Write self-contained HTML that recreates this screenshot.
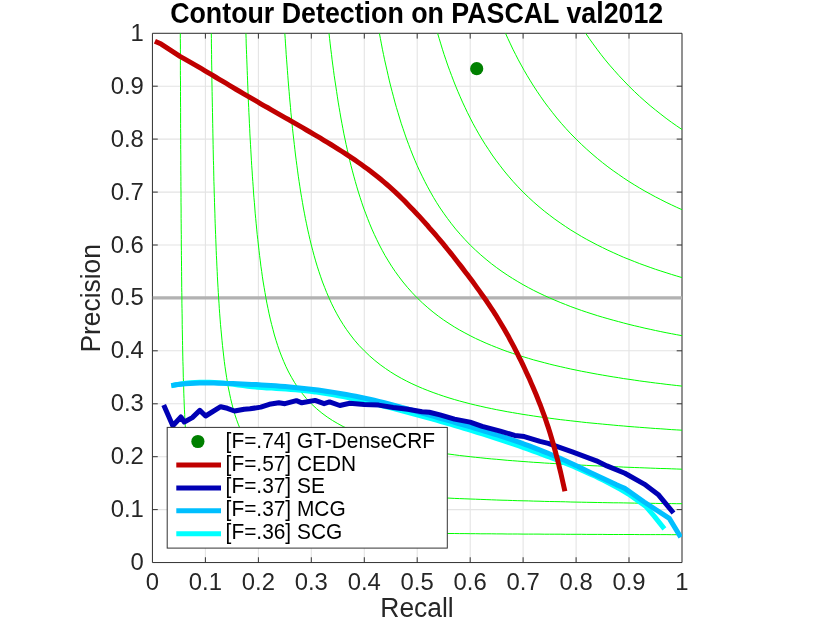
<!DOCTYPE html>
<html lang="en"><head><meta charset="utf-8"><title>Contour Detection on PASCAL val2012</title>
<style>html,body{margin:0;padding:0;background:#fff;overflow:hidden}svg{display:block}</style></head>
<body>
<svg width="830" height="623" viewBox="0 0 830 623">
<rect width="830" height="623" fill="#fff"/>
<defs><clipPath id="ax"><rect x="152.45" y="33.3" width="529.55" height="529.25"/></clipPath></defs>
<path d="M152.4 33.3V562.55M152.45 562.5H682.0M205.4 33.3V562.55M152.45 509.6H682.0M258.4 33.3V562.55M152.45 456.7H682.0M311.3 33.3V562.55M152.45 403.8H682.0M364.3 33.3V562.55M152.45 350.8H682.0M417.2 33.3V562.55M152.45 297.9H682.0M470.2 33.3V562.55M152.45 245.0H682.0M523.1 33.3V562.55M152.45 192.1H682.0M576.1 33.3V562.55M152.45 139.1H682.0M629.0 33.3V562.55M152.45 86.2H682.0M682.0 33.3V562.55M152.45 33.3H682.0" stroke="#e4e4e4" stroke-width="1.1" fill="none"/>
<path d="M152.45 33.3H682.0V562.55H152.45ZM205.4 562.55v-5.3M205.4 33.3v5.3M152.45 509.6h5.3M682.0 509.6h-5.3M258.4 562.55v-5.3M258.4 33.3v5.3M152.45 456.7h5.3M682.0 456.7h-5.3M311.3 562.55v-5.3M311.3 33.3v5.3M152.45 403.8h5.3M682.0 403.8h-5.3M364.3 562.55v-5.3M364.3 33.3v5.3M152.45 350.8h5.3M682.0 350.8h-5.3M417.2 562.55v-5.3M417.2 33.3v5.3M152.45 297.9h5.3M682.0 297.9h-5.3M470.2 562.55v-5.3M470.2 33.3v5.3M152.45 245.0h5.3M682.0 245.0h-5.3M523.1 562.55v-5.3M523.1 33.3v5.3M152.45 192.1h5.3M682.0 192.1h-5.3M576.1 562.55v-5.3M576.1 33.3v5.3M152.45 139.1h5.3M682.0 139.1h-5.3M629.0 562.55v-5.3M629.0 33.3v5.3M152.45 86.2h5.3M682.0 86.2h-5.3" stroke="#333" stroke-width="1" fill="none"/>
<g clip-path="url(#ax)" fill="none" stroke-linejoin="round">
<path d="M152.45 297.92H682.0" stroke="#b2b2b2" stroke-width="3.4"/>
<polyline points="205.4,509.6 210.7,514.0 216.0,517.2 221.3,519.5 226.6,521.4 231.9,522.9 237.2,524.1 242.5,525.1 247.8,525.9 253.1,526.6 258.4,527.3 263.7,527.8 269.0,528.3 274.2,528.7 279.5,529.1 284.8,529.5 290.1,529.8 295.4,530.1 300.7,530.3 306.0,530.6 311.3,530.8 316.6,531.0 321.9,531.2 327.2,531.4 332.5,531.5 337.8,531.7 343.1,531.8 348.4,532.0 353.7,532.1 359.0,532.2 364.3,532.3 369.6,532.4 374.9,532.5 380.2,532.6 385.5,532.7 390.7,532.8 396.0,532.9 401.3,532.9 406.6,533.0 411.9,533.1 417.2,533.1 422.5,533.2 427.8,533.3 433.1,533.3 438.4,533.4 443.7,533.4 449.0,533.5 454.3,533.5 459.6,533.6 464.9,533.6 470.2,533.7 475.5,533.7 480.8,533.8 486.1,533.8 491.4,533.8 496.7,533.9 502.0,533.9 507.2,534.0 512.5,534.0 517.8,534.0 523.1,534.1 528.4,534.1 533.7,534.1 539.0,534.1 544.3,534.2 549.6,534.2 554.9,534.2 560.2,534.2 565.5,534.3 570.8,534.3 576.1,534.3 581.4,534.3 586.7,534.4 592.0,534.4 597.3,534.4 602.6,534.4 607.9,534.5 613.2,534.5 618.5,534.5 623.7,534.5 629.0,534.5 634.3,534.5 639.6,534.6 644.9,534.6 650.2,534.6 655.5,534.6 660.8,534.6 666.1,534.6 671.4,534.7 676.7,534.7 682.0,534.7" stroke="#00ff00" stroke-width="1"/>
<polyline points="205.4,509.6 201.0,504.3 197.8,499.0 195.5,493.7 193.6,488.5 192.2,483.2 191.0,477.9 190.0,472.6 189.1,467.3 188.4,462.0 187.8,456.7 187.2,451.4 186.7,446.1 186.3,440.8 185.9,435.5 185.5,430.2 185.2,424.9 184.9,419.7 184.7,414.4 184.4,409.1 184.2,403.8 184.0,398.5 183.8,393.2 183.7,387.9 183.5,382.6 183.3,377.3 183.2,372.0 183.1,366.7 182.9,361.4 182.8,356.1 182.7,350.9 182.6,345.6 182.5,340.3 182.4,335.0 182.3,329.7 182.2,324.4 182.2,319.1 182.1,313.8 182.0,308.5 181.9,303.2 181.9,297.9 181.8,292.6 181.7,287.3 181.7,282.0 181.6,276.8 181.6,271.5 181.5,266.2 181.5,260.9 181.4,255.6 181.4,250.3 181.3,245.0 181.3,239.7 181.3,234.4 181.2,229.1 181.2,223.8 181.1,218.5 181.1,213.2 181.1,208.0 181.0,202.7 181.0,197.4 181.0,192.1 180.9,186.8 180.9,181.5 180.9,176.2 180.8,170.9 180.8,165.6 180.8,160.3 180.8,155.0 180.7,149.7 180.7,144.4 180.7,139.2 180.7,133.9 180.6,128.6 180.6,123.3 180.6,118.0 180.6,112.7 180.6,107.4 180.5,102.1 180.5,96.8 180.5,91.5 180.5,86.2 180.5,80.9 180.4,75.6 180.4,70.3 180.4,65.1 180.4,59.8 180.4,54.5 180.4,49.2 180.4,43.9 180.3,38.6 180.3,33.3" stroke="#00ff00" stroke-width="1"/>
<polyline points="258.4,456.7 263.7,461.5 269.0,465.5 274.2,468.9 279.5,471.8 284.8,474.3 290.1,476.5 295.4,478.5 300.7,480.2 306.0,481.8 311.3,483.2 316.6,484.4 321.9,485.6 327.2,486.6 332.5,487.6 337.8,488.5 343.1,489.3 348.4,490.0 353.7,490.7 359.0,491.4 364.3,492.0 369.6,492.6 374.9,493.1 380.2,493.6 385.5,494.1 390.7,494.5 396.0,494.9 401.3,495.3 406.6,495.7 411.9,496.1 417.2,496.4 422.5,496.7 427.8,497.0 433.1,497.3 438.4,497.6 443.7,497.9 449.0,498.1 454.3,498.4 459.6,498.6 464.9,498.8 470.2,499.0 475.5,499.2 480.8,499.4 486.1,499.6 491.4,499.8 496.7,500.0 502.0,500.2 507.2,500.3 512.5,500.5 517.8,500.7 523.1,500.8 528.4,500.9 533.7,501.1 539.0,501.2 544.3,501.4 549.6,501.5 554.9,501.6 560.2,501.7 565.5,501.8 570.8,502.0 576.1,502.1 581.4,502.2 586.7,502.3 592.0,502.4 597.3,502.5 602.6,502.6 607.9,502.7 613.2,502.8 618.5,502.8 623.7,502.9 629.0,503.0 634.3,503.1 639.6,503.2 644.9,503.2 650.2,503.3 655.5,503.4 660.8,503.5 666.1,503.5 671.4,503.6 676.7,503.7 682.0,503.7" stroke="#00ff00" stroke-width="1"/>
<polyline points="258.4,456.7 253.5,451.4 249.5,446.1 246.1,440.8 243.2,435.5 240.7,430.2 238.5,424.9 236.6,419.7 234.8,414.4 233.3,409.1 231.9,403.8 230.6,398.5 229.5,393.2 228.4,387.9 227.5,382.6 226.6,377.3 225.8,372.0 225.0,366.7 224.3,361.4 223.7,356.1 223.1,350.8 222.5,345.6 222.0,340.3 221.5,335.0 221.0,329.7 220.5,324.4 220.1,319.1 219.7,313.8 219.3,308.5 219.0,303.2 218.6,297.9 218.3,292.6 218.0,287.3 217.7,282.0 217.4,276.8 217.2,271.5 216.9,266.2 216.7,260.9 216.4,255.6 216.2,250.3 216.0,245.0 215.8,239.7 215.6,234.4 215.4,229.1 215.2,223.8 215.0,218.5 214.9,213.2 214.7,208.0 214.5,202.7 214.4,197.4 214.2,192.1 214.1,186.8 213.9,181.5 213.8,176.2 213.7,170.9 213.6,165.6 213.4,160.3 213.3,155.0 213.2,149.7 213.1,144.4 213.0,139.1 212.9,133.9 212.8,128.6 212.7,123.3 212.6,118.0 212.5,112.7 212.4,107.4 212.3,102.1 212.2,96.8 212.1,91.5 212.0,86.2 211.9,80.9 211.9,75.6 211.8,70.3 211.7,65.1 211.6,59.8 211.6,54.5 211.5,49.2 211.4,43.9 211.4,38.6 211.3,33.3" stroke="#00ff00" stroke-width="1"/>
<polyline points="311.3,403.8 316.6,408.7 321.9,413.1 327.2,417.0 332.5,420.5 337.8,423.6 343.1,426.5 348.4,429.0 353.7,431.4 359.0,433.5 364.3,435.5 369.6,437.4 374.9,439.1 380.2,440.6 385.5,442.1 390.7,443.5 396.0,444.7 401.3,445.9 406.6,447.1 411.9,448.1 417.2,449.1 422.5,450.1 427.8,451.0 433.1,451.8 438.4,452.6 443.7,453.4 449.0,454.1 454.3,454.8 459.6,455.5 464.9,456.1 470.2,456.7 475.5,457.3 480.8,457.8 486.1,458.4 491.4,458.9 496.7,459.3 502.0,459.8 507.2,460.3 512.5,460.7 517.8,461.1 523.1,461.5 528.4,461.9 533.7,462.3 539.0,462.6 544.3,463.0 549.6,463.3 554.9,463.6 560.2,464.0 565.5,464.3 570.8,464.6 576.1,464.8 581.4,465.1 586.7,465.4 592.0,465.7 597.3,465.9 602.6,466.2 607.9,466.4 613.2,466.6 618.5,466.8 623.7,467.1 629.0,467.3 634.3,467.5 639.6,467.7 644.9,467.9 650.2,468.1 655.5,468.3 660.8,468.5 666.1,468.6 671.4,468.8 676.7,469.0 682.0,469.2" stroke="#00ff00" stroke-width="1"/>
<polyline points="311.3,403.8 306.4,398.5 302.0,393.2 298.1,387.9 294.6,382.6 291.5,377.3 288.6,372.0 286.0,366.7 283.7,361.4 281.5,356.1 279.5,350.8 277.7,345.6 276.0,340.3 274.4,335.0 273.0,329.7 271.6,324.4 270.3,319.1 269.1,313.8 268.0,308.5 266.9,303.2 265.9,297.9 265.0,292.6 264.1,287.3 263.2,282.0 262.4,276.8 261.7,271.5 260.9,266.2 260.3,260.9 259.6,255.6 259.0,250.3 258.4,245.0 257.8,239.7 257.2,234.4 256.7,229.1 256.2,223.8 255.7,218.5 255.2,213.2 254.8,208.0 254.4,202.7 253.9,197.4 253.5,192.1 253.2,186.8 252.8,181.5 252.4,176.2 252.1,170.9 251.7,165.6 251.4,160.3 251.1,155.0 250.8,149.7 250.5,144.4 250.2,139.1 249.9,133.9 249.7,128.6 249.4,123.3 249.2,118.0 248.9,112.7 248.7,107.4 248.4,102.1 248.2,96.8 248.0,91.5 247.8,86.2 247.6,80.9 247.4,75.6 247.2,70.3 247.0,65.1 246.8,59.8 246.6,54.5 246.4,49.2 246.2,43.9 246.1,38.6 245.9,33.3" stroke="#00ff00" stroke-width="1"/>
<polyline points="364.3,350.8 369.6,355.9 374.9,360.5 380.2,364.7 385.5,368.5 390.7,372.0 396.0,375.3 401.3,378.3 406.6,381.1 411.9,383.7 417.2,386.1 422.5,388.4 427.8,390.5 433.1,392.5 438.4,394.4 443.7,396.2 449.0,397.9 454.3,399.5 459.6,401.0 464.9,402.4 470.2,403.8 475.5,405.1 480.8,406.3 486.1,407.5 491.4,408.6 496.7,409.7 502.0,410.7 507.2,411.7 512.5,412.6 517.8,413.5 523.1,414.4 528.4,415.2 533.7,416.0 539.0,416.8 544.3,417.5 549.6,418.2 554.9,418.9 560.2,419.6 565.5,420.2 570.8,420.8 576.1,421.4 581.4,422.0 586.7,422.6 592.0,423.1 597.3,423.6 602.6,424.1 607.9,424.6 613.2,425.1 618.5,425.6 623.7,426.0 629.0,426.5 634.3,426.9 639.6,427.3 644.9,427.7 650.2,428.1 655.5,428.5 660.8,428.8 666.1,429.2 671.4,429.6 676.7,429.9 682.0,430.2" stroke="#00ff00" stroke-width="1"/>
<polyline points="364.3,350.8 359.2,345.6 354.6,340.3 350.5,335.0 346.6,329.7 343.1,324.4 339.8,319.1 336.8,313.8 334.0,308.5 331.4,303.2 329.0,297.9 326.7,292.6 324.6,287.3 322.5,282.0 320.7,276.8 318.9,271.5 317.2,266.2 315.6,260.9 314.1,255.6 312.7,250.3 311.3,245.0 310.0,239.7 308.8,234.4 307.6,229.1 306.5,223.8 305.4,218.5 304.4,213.2 303.4,208.0 302.5,202.7 301.6,197.4 300.7,192.1 299.9,186.8 299.1,181.5 298.3,176.2 297.6,170.9 296.9,165.6 296.2,160.3 295.5,155.0 294.9,149.7 294.3,144.4 293.7,139.1 293.1,133.9 292.5,128.6 292.0,123.3 291.5,118.0 290.9,112.7 290.5,107.4 290.0,102.1 289.5,96.8 289.1,91.5 288.6,86.2 288.2,80.9 287.8,75.6 287.4,70.3 287.0,65.1 286.6,59.8 286.2,54.5 285.9,49.2 285.5,43.9 285.2,38.6 284.8,33.3" stroke="#00ff00" stroke-width="1"/>
<polyline points="417.2,297.9 422.5,303.0 427.8,307.7 433.1,312.1 438.4,316.2 443.7,320.0 449.0,323.5 454.3,326.9 459.6,330.0 464.9,332.9 470.2,335.7 475.5,338.4 480.8,340.8 486.1,343.2 491.4,345.4 496.7,347.5 502.0,349.6 507.2,351.5 512.5,353.3 517.8,355.1 523.1,356.7 528.4,358.3 533.7,359.9 539.0,361.3 544.3,362.7 549.6,364.1 554.9,365.4 560.2,366.6 565.5,367.8 570.8,369.0 576.1,370.1 581.4,371.2 586.7,372.2 592.0,373.2 597.3,374.2 602.6,375.1 607.9,376.0 613.2,376.9 618.5,377.7 623.7,378.6 629.0,379.3 634.3,380.1 639.6,380.9 644.9,381.6 650.2,382.3 655.5,383.0 660.8,383.6 666.1,384.3 671.4,384.9 676.7,385.5 682.0,386.1" stroke="#00ff00" stroke-width="1"/>
<polyline points="417.2,297.9 412.1,292.6 407.4,287.3 403.0,282.0 399.0,276.8 395.2,271.5 391.6,266.2 388.3,260.9 385.1,255.6 382.2,250.3 379.4,245.0 376.8,239.7 374.3,234.4 371.9,229.1 369.7,223.8 367.6,218.5 365.6,213.2 363.6,208.0 361.8,202.7 360.1,197.4 358.4,192.1 356.8,186.8 355.3,181.5 353.8,176.2 352.4,170.9 351.0,165.6 349.7,160.3 348.5,155.0 347.3,149.7 346.1,144.4 345.0,139.1 343.9,133.9 342.9,128.6 341.9,123.3 340.9,118.0 340.0,112.7 339.1,107.4 338.2,102.1 337.4,96.8 336.6,91.5 335.8,86.2 335.0,80.9 334.2,75.6 333.5,70.3 332.8,65.1 332.1,59.8 331.5,54.5 330.8,49.2 330.2,43.9 329.6,38.6 329.0,33.3" stroke="#00ff00" stroke-width="1"/>
<polyline points="470.2,245.0 475.5,250.1 480.8,254.9 486.1,259.4 491.4,263.7 496.7,267.7 502.0,271.5 507.2,275.0 512.5,278.4 517.8,281.6 523.1,284.7 528.4,287.6 533.7,290.4 539.0,293.0 544.3,295.5 549.6,297.9 554.9,300.2 560.2,302.4 565.5,304.5 570.8,306.6 576.1,308.5 581.4,310.4 586.7,312.2 592.0,313.9 597.3,315.6 602.6,317.2 607.9,318.7 613.2,320.2 618.5,321.6 623.7,323.0 629.0,324.4 634.3,325.7 639.6,326.9 644.9,328.2 650.2,329.3 655.5,330.5 660.8,331.6 666.1,332.7 671.4,333.7 676.7,334.7 682.0,335.7" stroke="#00ff00" stroke-width="1"/>
<polyline points="470.2,245.0 465.1,239.7 460.3,234.4 455.7,229.1 451.5,223.8 447.5,218.5 443.7,213.2 440.1,208.0 436.7,202.7 433.5,197.4 430.5,192.1 427.6,186.8 424.8,181.5 422.2,176.2 419.6,170.9 417.2,165.6 414.9,160.3 412.7,155.0 410.6,149.7 408.6,144.4 406.6,139.1 404.8,133.9 403.0,128.6 401.2,123.3 399.6,118.0 398.0,112.7 396.4,107.4 394.9,102.1 393.5,96.8 392.1,91.5 390.7,86.2 389.4,80.9 388.2,75.6 387.0,70.3 385.8,65.1 384.6,59.8 383.5,54.5 382.4,49.2 381.4,43.9 380.4,38.6 379.4,33.3" stroke="#00ff00" stroke-width="1"/>
<polyline points="523.1,192.1 528.4,197.2 533.7,202.1 539.0,206.7 544.3,211.1 549.6,215.2 554.9,219.2 560.2,222.9 565.5,226.5 570.8,230.0 576.1,233.2 581.4,236.4 586.7,239.4 592.0,242.2 597.3,245.0 602.6,247.6 607.9,250.2 613.2,252.6 618.5,255.0 623.7,257.3 629.0,259.4 634.3,261.5 639.6,263.6 644.9,265.5 650.2,267.4 655.5,269.3 660.8,271.0 666.1,272.7 671.4,274.4 676.7,276.0 682.0,277.6" stroke="#00ff00" stroke-width="1"/>
<polyline points="523.1,192.1 518.0,186.8 513.1,181.5 508.5,176.2 504.1,170.9 500.0,165.6 496.0,160.3 492.2,155.0 488.7,149.7 485.2,144.4 481.9,139.1 478.8,133.9 475.8,128.6 472.9,123.3 470.2,118.0 467.5,112.7 465.0,107.4 462.5,102.1 460.2,96.8 457.9,91.5 455.7,86.2 453.6,80.9 451.6,75.6 449.6,70.3 447.7,65.1 445.9,59.8 444.1,54.5 442.4,49.2 440.8,43.9 439.2,38.6 437.6,33.3" stroke="#00ff00" stroke-width="1"/>
<polyline points="576.1,139.1 581.4,144.3 586.7,149.2 592.0,153.9 597.3,158.4 602.6,162.7 607.9,166.8 613.2,170.7 618.5,174.4 623.7,178.0 629.0,181.5 634.3,184.8 639.6,188.0 644.9,191.1 650.2,194.0 655.5,196.9 660.8,199.6 666.1,202.3 671.4,204.8 676.7,207.3 682.0,209.7" stroke="#00ff00" stroke-width="1"/>
<polyline points="576.1,139.1 570.9,133.9 566.0,128.6 561.3,123.3 556.8,118.0 552.6,112.7 548.5,107.4 544.5,102.1 540.8,96.8 537.2,91.5 533.7,86.2 530.4,80.9 527.2,75.6 524.1,70.3 521.2,65.1 518.3,59.8 515.6,54.5 512.9,49.2 510.4,43.9 507.9,38.6 505.5,33.3" stroke="#00ff00" stroke-width="1"/>
<polyline points="629.0,86.2 634.3,91.4 639.6,96.4 644.9,101.1 650.2,105.7 655.5,110.0 660.8,114.2 666.1,118.3 671.4,122.2 676.7,125.9 682.0,129.5" stroke="#00ff00" stroke-width="1"/>
<polyline points="629.0,86.2 623.9,80.9 618.9,75.6 614.2,70.3 609.6,65.1 605.2,59.8 601.0,54.5 597.0,49.2 593.1,43.9 589.3,38.6 585.7,33.3" stroke="#00ff00" stroke-width="1"/>
<polyline points="171.3,385.7 176.0,384.7 180.8,383.9 185.5,383.3 190.3,382.8 195.1,382.5 199.9,382.3 204.7,382.2 209.5,382.3 214.3,382.5 219.1,382.8 223.9,383.2 228.7,383.7 233.5,384.3 238.2,385.0 243.0,385.6 247.7,386.2 252.5,386.7 257.3,387.2 262.0,387.5 266.8,387.9 271.6,388.1 276.4,388.4 281.2,388.7 286.0,389.1 290.8,389.4 295.6,389.8 300.4,390.3 305.2,390.8 310.0,391.3 314.8,391.9 319.5,392.6 324.3,393.3 329.0,394.0 333.8,394.8 338.5,395.7 343.2,396.6 347.9,397.6 352.6,398.6 357.3,399.7 362.0,400.8 366.7,401.9 371.3,403.0 376.0,404.2 380.6,405.4 385.3,406.5 390.0,407.7 394.6,408.9 399.3,410.1 403.9,411.4 408.6,412.6 413.2,413.8 417.9,415.1 422.5,416.4 427.1,417.6 431.8,418.9 436.4,420.2 441.0,421.5 445.7,422.9 450.3,424.2 454.9,425.5 459.5,426.9 464.1,428.3 468.7,429.7 473.3,431.1 477.9,432.5 482.5,433.9 487.1,435.4 491.7,436.8 496.2,438.3 500.8,439.8 505.4,441.3 509.9,442.9 514.5,444.4 519.0,446.0 523.6,447.6 528.1,449.2 532.6,450.8 537.1,452.4 541.6,454.1 546.1,455.8 550.6,457.5 555.1,459.2 559.6,460.9 564.1,462.7 568.5,464.5 573.0,466.3 577.4,468.2 581.8,470.1 586.2,472.1 590.6,474.1 594.9,476.1 599.2,478.2 603.5,480.3 607.8,482.5 612.1,484.8 616.3,487.1 620.5,489.4 624.7,491.9 628.8,494.3 645.6,506.1 654.0,515.9 664.4,528.9" stroke="#00ffff" stroke-width="5"/>
<polyline points="171.3,385.6 176.0,384.8 180.7,384.2 185.4,383.7 190.1,383.4 194.9,383.2 199.6,383.0 204.3,383.0 209.1,383.0 213.8,383.1 218.6,383.2 223.3,383.3 228.1,383.5 232.8,383.6 237.6,383.8 242.3,384.0 247.1,384.2 251.8,384.4 256.6,384.6 261.3,384.9 266.1,385.2 270.8,385.5 275.6,385.8 280.3,386.2 285.1,386.6 289.8,387.0 294.5,387.4 299.3,387.9 304.0,388.4 308.7,388.9 313.4,389.5 318.1,390.1 322.9,390.8 327.6,391.4 332.3,392.1 336.9,392.9 341.6,393.7 346.3,394.5 351.0,395.4 355.6,396.3 360.3,397.2 364.9,398.2 369.6,399.2 374.2,400.3 378.8,401.4 383.4,402.5 388.1,403.7 392.7,404.9 397.3,406.1 401.8,407.4 406.4,408.6 411.0,409.9 415.6,411.2 420.2,412.5 424.8,413.8 429.3,415.1 433.9,416.4 438.5,417.8 443.1,419.1 447.7,420.4 452.2,421.7 456.8,423.0 461.4,424.3 466.0,425.6 470.5,426.9 475.1,428.3 479.6,429.6 484.2,431.0 488.7,432.4 493.3,433.8 497.8,435.2 502.3,436.6 506.9,438.1 511.4,439.6 515.9,441.1 520.4,442.7 524.8,444.3 529.3,445.9 533.7,447.6 538.2,449.3 542.6,451.1 547.0,452.8 551.4,454.7 555.8,456.5 560.1,458.4 564.5,460.3 568.8,462.3 573.2,464.3 577.5,466.3 581.8,468.3 586.1,470.4 590.3,472.4 594.6,474.5 598.9,476.5 603.2,478.6 607.5,480.6 611.8,482.6 616.1,484.6 620.5,486.5 624.8,488.4 644.2,502.0 669.3,518.4 680.7,537.2" stroke="#00bfff" stroke-width="5"/>
<polyline points="163.7,404.9 172.8,425.7 180.9,417.0 184.3,422.0 192.3,417.6 199.8,410.4 205.6,416.0 220.7,406.7 227.3,408.3 234.5,411.0 244.2,409.2 250.0,408.8 260.8,407.1 269.3,404.3 278.9,402.8 284.9,403.7 296.4,400.7 301.8,402.8 315.1,400.4 324.1,403.7 329.5,401.9 339.8,405.5 349.8,403.3 364.3,404.5 378.7,405.1 393.2,407.5 407.7,409.3 422.1,411.7 429.3,412.3 440.0,414.9 454.5,419.1 470.1,422.1 482.2,426.3 500.2,431.1 514.7,435.4 524.3,436.6 540.0,441.4 548.2,443.4 572.3,451.9 596.4,460.8 606.9,465.9 624.9,473.3 644.2,484.1 658.1,494.4 673.5,513.0" stroke="#0000b4" stroke-width="5"/>
<polyline points="154.9,41.2 161.2,44.1 180.4,56.6 184.0,58.6 187.5,60.6 191.0,62.6 194.5,64.6 198.0,66.7 201.5,68.7 205.0,70.8 208.5,72.9 212.0,74.9 215.4,77.0 218.9,79.1 222.4,81.2 225.9,83.2 229.4,85.3 232.8,87.4 236.3,89.5 239.8,91.5 243.3,93.6 246.8,95.6 250.3,97.7 253.8,99.7 257.3,101.7 260.8,103.8 264.3,105.8 267.9,107.8 271.4,109.8 274.9,111.8 278.4,113.8 281.9,115.8 285.4,117.8 289.0,119.8 292.5,121.9 296.0,123.9 299.5,125.9 303.0,127.9 306.5,130.0 310.0,132.0 313.5,134.1 317.0,136.1 320.5,138.2 323.9,140.3 327.4,142.4 330.9,144.5 334.3,146.6 337.8,148.8 341.2,151.0 344.6,153.1 348.0,155.4 351.4,157.6 354.8,159.9 358.1,162.2 361.4,164.5 364.7,166.9 368.0,169.2 371.2,171.7 374.4,174.2 377.6,176.7 380.7,179.2 383.8,181.8 386.9,184.5 389.9,187.2 392.9,189.9 395.9,192.6 398.8,195.4 401.7,198.2 404.6,201.1 407.4,204.0 410.2,206.9 413.0,209.8 415.8,212.8 418.6,215.7 421.3,218.7 424.0,221.7 426.8,224.7 429.4,227.8 432.1,230.8 434.8,233.9 437.4,237.0 440.0,240.1 442.6,243.2 445.2,246.4 447.7,249.5 450.3,252.7 452.8,255.8 455.3,259.0 457.8,262.2 460.3,265.4 462.8,268.6 465.3,271.9 467.7,275.1 470.1,278.3 472.6,281.6 475.0,284.9 477.3,288.1 479.7,291.4 482.0,294.7 484.4,298.0 486.7,301.3 488.9,304.7 491.2,308.1 493.4,311.4 495.6,314.8 497.7,318.3 499.8,321.7 501.9,325.2 504.0,328.7 506.0,332.2 508.0,335.7 509.9,339.3 511.8,342.9 513.7,346.4 515.6,350.1 517.4,353.7 519.2,357.3 521.0,360.9 522.8,364.6 524.5,368.3 526.2,372.0 527.9,375.6 529.6,379.3 531.2,383.1 532.8,386.8 534.4,390.5 536.0,394.3 537.5,398.0 539.0,401.8 540.5,405.5 541.9,409.3 543.3,413.1 544.7,416.9 546.0,420.8 547.3,424.6 548.6,428.4 549.8,432.3 551.0,436.2 552.1,440.0 553.3,443.9 554.3,447.8 555.4,451.7 556.4,455.6 557.5,459.6 558.5,463.5 559.4,467.4 560.4,471.4 561.3,475.3 562.2,479.3 563.1,483.2 564.0,487.2 564.9,491.2" stroke="#c00000" stroke-width="5"/>
</g>
<circle cx="476.7" cy="68.7" r="6.6" fill="#008000"/>
<g font-family="'Liberation Sans', Arial, Helvetica, sans-serif" fill="#262626">
<g font-size="23.85">
<text x="152.4" y="590.2" text-anchor="middle">0</text>
<text x="205.4" y="590.2" text-anchor="middle">0.1</text>
<text x="258.4" y="590.2" text-anchor="middle">0.2</text>
<text x="311.3" y="590.2" text-anchor="middle">0.3</text>
<text x="364.3" y="590.2" text-anchor="middle">0.4</text>
<text x="417.2" y="590.2" text-anchor="middle">0.5</text>
<text x="470.2" y="590.2" text-anchor="middle">0.6</text>
<text x="523.1" y="590.2" text-anchor="middle">0.7</text>
<text x="576.1" y="590.2" text-anchor="middle">0.8</text>
<text x="629.0" y="590.2" text-anchor="middle">0.9</text>
<text x="682.0" y="590.2" text-anchor="middle">1</text>
<text x="143.8" y="570.0" text-anchor="end">0</text>
<text x="143.8" y="517.1" text-anchor="end">0.1</text>
<text x="143.8" y="464.2" text-anchor="end">0.2</text>
<text x="143.8" y="411.3" text-anchor="end">0.3</text>
<text x="143.8" y="358.3" text-anchor="end">0.4</text>
<text x="143.8" y="305.4" text-anchor="end">0.5</text>
<text x="143.8" y="252.5" text-anchor="end">0.6</text>
<text x="143.8" y="199.6" text-anchor="end">0.7</text>
<text x="143.8" y="146.6" text-anchor="end">0.8</text>
<text x="143.8" y="93.7" text-anchor="end">0.9</text>
<text x="143.8" y="40.8" text-anchor="end">1</text>
</g>
<text transform="translate(417 617.1) scale(1 1.02)" font-size="26.4" text-anchor="middle">Recall</text>
<text transform="translate(100.4 298.3) rotate(-90) scale(1 1.02)" font-size="26.4" text-anchor="middle">Precision</text>
<text transform="translate(416.7 22.7) scale(1 1.08)" font-size="26.8" font-weight="bold" fill="#000" text-anchor="middle">Contour Detection on PASCAL val2012</text>
<rect x="167.2" y="427.4" width="280.1" height="120.7" fill="#fff" stroke="#333" stroke-width="1"/>
<g font-size="20.9" fill="#000">
<circle cx="197.9" cy="441.5" r="6.6" fill="#008000"/>
<text transform="translate(225.6 447.80) scale(1 1.05)">[F=.74] GT-DenseCRF</text>
<path d="M176.3 465.0H221" stroke="#c00000" stroke-width="5" fill="none"/>
<text transform="translate(225.6 470.55) scale(1 1.05)">[F=.57] CEDN</text>
<path d="M176.3 487.9H221" stroke="#0000b4" stroke-width="5" fill="none"/>
<text transform="translate(225.6 493.30) scale(1 1.05)">[F=.37] SE</text>
<path d="M176.3 510.8H221" stroke="#00bfff" stroke-width="5" fill="none"/>
<text transform="translate(225.6 516.05) scale(1 1.05)">[F=.37] MCG</text>
<path d="M176.3 533.8H221" stroke="#00ffff" stroke-width="5" fill="none"/>
<text transform="translate(225.6 538.80) scale(1 1.05)">[F=.36] SCG</text>
</g>
</g>
</svg>
</body></html>
